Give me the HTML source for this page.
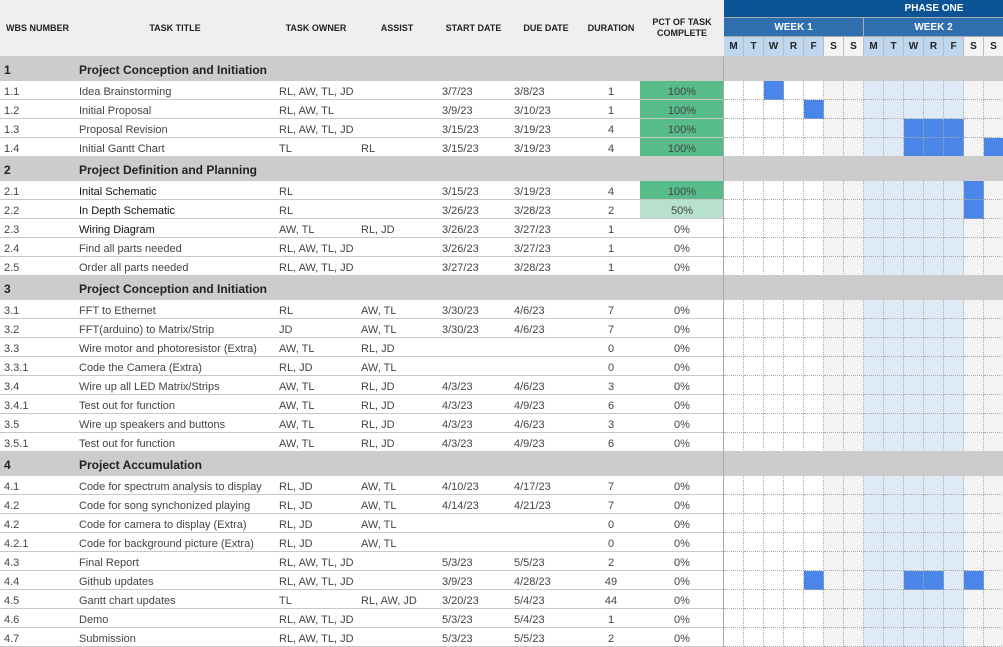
<!DOCTYPE html>
<html><head><meta charset="utf-8">
<style>
body{margin:0;width:1003px;height:647px;overflow:hidden;background:#fff;font-family:"Liberation Sans",Arial,sans-serif;}
#sheet{position:relative;width:1003px;height:647px;}
.c{position:absolute;box-sizing:border-box;white-space:nowrap;overflow:hidden;}
.hd{font-size:9px;font-weight:bold;color:#222;text-align:center;display:flex;align-items:center;justify-content:center;line-height:11px;}
.tx{font-size:11px;color:#444;display:flex;align-items:center;padding-top:2px;}
.sec{font-size:12px;font-weight:bold;color:#222;display:flex;align-items:center;padding-top:1px;}
</style></head><body>
<div id="sheet"></div>
<script>
const wbs=["1","1.1","1.2","1.3","1.4","2","2.1","2.2","2.3","2.4","2.5","3","3.1","3.2","3.3","3.3.1","3.4","3.4.1","3.5","3.5.1","4","4.1","4.2","4.2","4.2.1","4.3","4.4","4.5","4.6","4.7"];
const titles=["Project Conception and Initiation","Idea Brainstorming","Initial Proposal","Proposal Revision","Initial Gantt Chart","Project Definition and Planning","Inital Schematic","In Depth Schematic","Wiring Diagram","Find all parts needed","Order all parts needed","Project Conception and Initiation","FFT to Ethernet","FFT(arduino) to Matrix/Strip","Wire motor and photoresistor (Extra)","Code the Camera (Extra)","Wire up all LED Matrix/Strips","Test out for function","Wire up speakers and buttons","Test out for function","Project Accumulation","Code for spectrum analysis to display","Code for song synchonized playing","Code for camera to display (Extra)","Code for background picture (Extra)","Final Report","Github updates","Gantt chart updates","Demo","Submission"];
const owners=["","RL, AW, TL, JD","RL, AW, TL","RL, AW, TL, JD","TL","","RL","RL","AW, TL","RL, AW, TL, JD","RL, AW, TL, JD","","RL","JD","AW, TL","RL, JD","AW, TL","AW, TL","AW, TL","AW, TL","","RL, JD","RL, JD","RL, JD","RL, JD","RL, AW, TL, JD","RL, AW, TL, JD","TL","RL, AW, TL, JD","RL, AW, TL, JD"];
const assists=["","","","","RL","","","","RL, JD","","","","AW, TL","AW, TL","RL, JD","AW, TL","RL, JD","RL, JD","RL, JD","RL, JD","","AW, TL","AW, TL","AW, TL","AW, TL","","","RL, AW, JD","",""];
const starts=["","3/7/23","3/9/23","3/15/23","3/15/23","","3/15/23","3/26/23","3/26/23","3/26/23","3/27/23","","3/30/23","3/30/23","","","4/3/23","4/3/23","4/3/23","4/3/23","","4/10/23","4/14/23","","","5/3/23","3/9/23","3/20/23","5/3/23","5/3/23"];
const dues=["","3/8/23","3/10/23","3/19/23","3/19/23","","3/19/23","3/28/23","3/27/23","3/27/23","3/28/23","","4/6/23","4/6/23","","","4/6/23","4/9/23","4/6/23","4/9/23","","4/17/23","4/21/23","","","5/5/23","4/28/23","5/4/23","5/4/23","5/5/23"];
const durations=["","1","1","4","4","","4","2","1","1","1","","7","7","0","0","3","6","3","6","","7","7","0","0","2","49","44","1","2"];
const pcts=[null,100,100,100,100,null,100,50,0,0,0,null,0,0,0,0,0,0,0,0,null,0,0,0,0,0,0,0,0,0];
const barDays=[[],[2],[4],[9,10,11],[9,10,11,13],[],[12],[12],[],[],[],[],[],[],[],[],[],[],[],[],[],[],[],[],[],[],[4,9,10,12],[],[],[]];
const dayLabels=["M","T","W","R","F","S","S","M","T","W","R","F","S","S"];
const weekLabels=["WEEK 1","WEEK 2"];

const S=document.getElementById('sheet');
function cell(x,y,w,h,cls,txt,st){const d=document.createElement('div');d.className='c '+cls;d.style.left=x+'px';d.style.top=y+'px';d.style.width=w+'px';d.style.height=h+'px';if(txt!==undefined)d.textContent=txt;if(st)d.style.cssText+=st;S.appendChild(d);return d;}
const cols=[0,75,275,357,437,510,582,640,724];
const G0=724,DW=20;
let h=cell(0,0,724,56,'','', 'background:#efefef;');

const heads=["WBS NUMBER","TASK TITLE","TASK OWNER","ASSIST","START DATE","DUE DATE","DURATION","PCT OF TASK\nCOMPLETE"];
const hx=[[0,75],[75,200],[275,82],[357,80],[437,73],[510,72],[582,58],[640,84]];
heads.forEach((t,i)=>{const e=cell(hx[i][0],18,hx[i][1],20,'hd','',i==7?'white-space:pre;top:16px;height:24px;':'');e.textContent=t;

});
let p=cell(G0,0,280,18,'hd','PHASE ONE','background:#0b5394;color:#fff;font-size:10px;border-bottom:1px solid #aaa;padding-left:140px;');

weekLabels.forEach((w,i)=>{const e=cell(G0+i*140,18,140,19,'hd',w,'background:#2f6fb0;color:#fff;font-size:10px;border-right:1px solid #aaa;border-bottom:1px solid #aaa;');
});
dayLabels.forEach((d,i)=>{const we=(i%7)>=5;const e=cell(G0+i*DW,37,DW,19,'hd',d,'background:'+(we?'#f3f3f3':'#bfd7ee')+';border-right:1px solid #bbb;font-size:10px;');
});
let y=57;
wbs.forEach((n,r)=>{
  const isSec=pcts[r]===null;const rh=isSec?24:19;
  if(isSec){
    const e=cell(0,y-1,1003,rh+1,'','','background:#cccccc;');
    
    const a=cell(4,y,70,rh,'sec',n);
    const b=cell(79,y,400,rh,'sec',titles[r]);
  } else {
    const row=cell(0,y,724,rh,'','','border-bottom:1px solid #c8c8c8;');
    
    const vals=[n,titles[r],owners[r],assists[r],starts[r],dues[r]];
    const xs=[4,79,279,361,442,514];
    vals.forEach((v,i)=>{const e=cell(xs[i],y,(cols[i+1]-xs[i]),rh,'tx',v,(i==1&&r>=6&&r<=8)?'color:#111;':'');
      });
    const du=cell(582,y,58,rh,'tx',durations[r],'justify-content:center;');
    const pv=pcts[r];const bg=pv>=100?'#57bb8a':pv>=50?'#b7e1cd':'transparent';
    const pc=cell(640,y,84,rh,'tx',pv+'%','justify-content:center;padding-top:3px;background:'+bg+';border-bottom:1px solid #c8c8c8;');
    
    for(let i=0;i<14;i++){const we=(i%7)>=5;const bar=barDays[r].includes(i);
      const bgc=bar?'#4a86e8':we?'#f3f3f3':(i>=7?'#deebf7':'#fff');
      const e=cell(G0+i*DW,y,DW,rh,'','','background:'+bgc+';border-right:1px dotted #aaa;border-bottom:1px dotted #aaa;');
      }
  }
  y+=rh;
});
const ln=cell(G0-1,57,1,590,'','','background:#aaa;');
</script>
</body></html>
